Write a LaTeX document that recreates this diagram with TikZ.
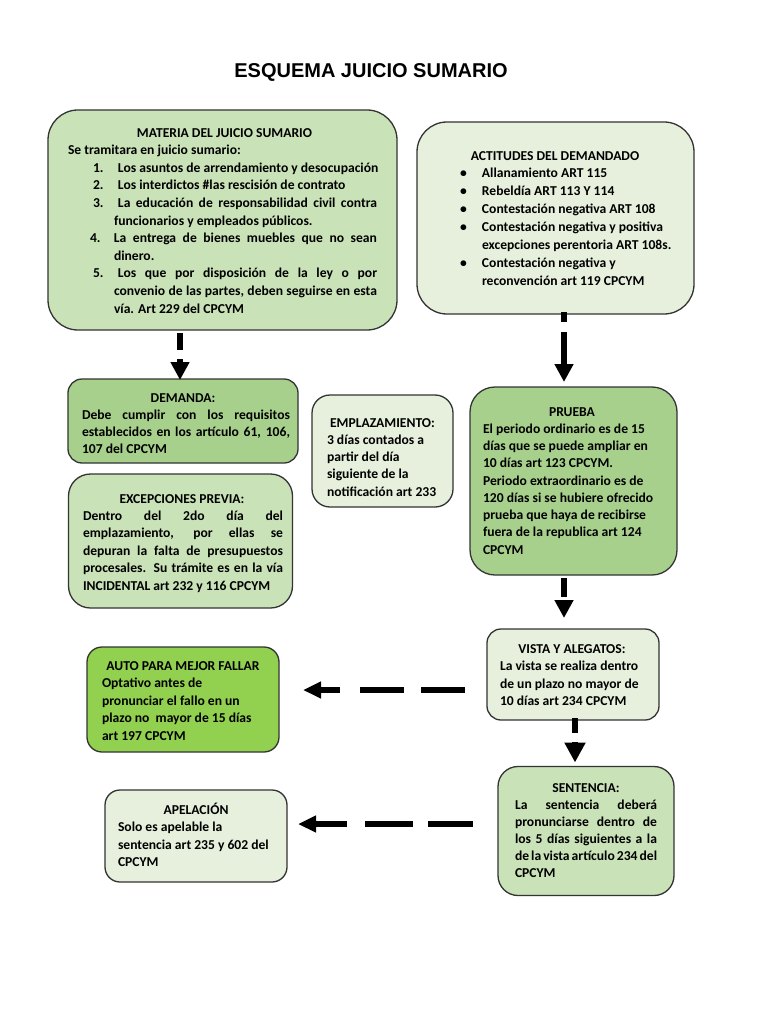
\documentclass[tikz,border=0pt]{standalone}
\usepackage{fontspec}
\setmainfont{Carlito}
\newfontfamily\titlefont{Liberation Sans}
\usetikzlibrary{arrows.meta}
\definecolor{gMid}{HTML}{A8D08D}
\definecolor{gLight}{HTML}{C9E2B7}
\definecolor{gPale}{HTML}{E6F0DC}
\definecolor{gBright}{HTML}{92D050}
\definecolor{edge}{HTML}{333333}
\newcommand{\firstln}{\rule{0pt}{12pt}}
\newcommand{\justln}[2]{\makebox[#1pt][s]{#2}}
\begin{document}
\begin{tikzpicture}[x=1pt,y=-1pt,
  box/.style={draw=edge, line width=1.3pt, inner sep=0pt, outer sep=0pt},
  txt/.style={anchor=north west, inner sep=0pt, outer sep=0pt, align=left},
  bodyfont/.style={font=\bfseries\fontsize{13.6}{#1}\selectfont},
  arr/.style={line width=6pt, -{Triangle[length=18pt,width=18pt]}},
  harr/.style={line width=6.5pt, -{Triangle[length=18pt,width=16pt]}}
]
\useasboundingbox (0,0) rectangle (768,1024);

% title
\node[anchor=base, inner sep=0pt, font=\titlefont\bfseries\fontsize{20}{24}\selectfont] (title) at (371,78) {ESQUEMA JUICIO SUMARIO};

% boxes
\node[box, fill=gLight, rounded corners=30pt, minimum width=349pt, minimum height=220pt] (mat) at (222.5,220) {};
\node[box, fill=gPale, rounded corners=30pt, minimum width=277pt, minimum height=192pt] (act) at (555.5,218) {};
\node[box, fill=gMid, rounded corners=14pt, minimum width=230pt, minimum height=84pt] (dem) at (183,421) {};
\node[box, fill=gLight, rounded corners=22pt, minimum width=224pt, minimum height=134pt] (exc) at (180.5,541) {};
\node[box, fill=gPale, rounded corners=18pt, minimum width=141pt, minimum height=112pt] (emp) at (382.5,451) {};
\node[box, fill=gMid, rounded corners=25pt, minimum width=207pt, minimum height=188pt] (pru) at (573.5,481) {};
\node[box, fill=gPale, rounded corners=14pt, minimum width=172pt, minimum height=91pt] (vis) at (573,674.5) {};
\node[box, fill=gBright, rounded corners=15pt, minimum width=192pt, minimum height=105pt] (aut) at (183,699.5) {};
\node[box, fill=gPale, rounded corners=15pt, minimum width=182pt, minimum height=92pt] (ape) at (196,836) {};
\node[box, fill=gLight, rounded corners=20pt, minimum width=176pt, minimum height=129pt] (sen) at (586,831) {};

% arrows
\draw[arr, dash pattern=on 17pt off 9pt on 60pt off 1pt]
  ([xshift=-42.5pt,yshift=-3pt]mat.south) -- ([xshift=-3pt,yshift=-1pt]dem.north);
\draw[arr, dash pattern=on 10pt off 10pt on 80pt off 1pt]
  ([xshift=8.5pt,yshift=2pt]act.south) -- ([xshift=-9.5pt,yshift=5pt]pru.north);
\draw[arr, dash pattern=on 19pt off 3pt on 40pt off 1pt]
  ([xshift=-9.5pt,yshift=-3pt]pru.south) -- ([xshift=-9pt,yshift=11pt]vis.north);
\draw[arr, line width=6.5pt, -{Triangle[length=20pt,width=20pt]}, dash pattern=on 15pt off 9pt on 40pt off 1pt]
  ([xshift=2pt,yshift=2pt]vis.south) -- ([xshift=-11pt,yshift=4pt]sen.north);
\draw[harr, dash pattern=on 44pt off 17pt on 44pt off 20pt on 60pt off 1pt]
  ([xshift=-22pt,yshift=-15.5pt]vis.west) -- ([xshift=24pt,yshift=9.5pt]aut.east);
\draw[harr, dash pattern=on 45pt off 15pt on 48pt off 18pt on 60pt off 1pt]
  ([xshift=-25pt,yshift=7pt]sen.west) -- ([xshift=11pt,yshift=12pt]ape.east);

% texts
\node[txt, bodyfont=17.6] (matT) at (68,125) {\firstln\makebox[313pt]{MATERIA DEL JUICIO SUMARIO}\\
Se tramitara en juicio sumario:\\
\hspace*{25pt}\makebox[25pt][l]{1.}Los asuntos de arrendamiento y desocupación\\
\hspace*{25pt}\makebox[25pt][l]{2.}Los interdictos \#las rescisión de contrato\\
\hspace*{25pt}\makebox[25pt][l]{3.}\justln{259}{La educación de responsabilidad civil contra}\\
\hspace*{46pt}funcionarios y empleados públicos.\\
\hspace*{22pt}\makebox[24pt][l]{4.}\justln{263}{La entrega de bienes muebles que no sean}\\
\hspace*{46pt}dinero.\\
\hspace*{25pt}\makebox[25pt][l]{5.}\justln{259}{Los que por disposición de la ley o por}\\
\hspace*{46pt}\justln{263}{convenio de las partes, deben seguirse en esta}\\
\hspace*{46pt}vía. Art 229 del CPCYM};

\node[txt, bodyfont=17.86] (actT) at (460,148) {\firstln\makebox[190pt]{ACTITUDES DEL DEMANDADO}\\
\makebox[22pt][l]{•}Allanamiento ART 115\\
\makebox[22pt][l]{•}Rebeldía ART 113 Y 114\\
\makebox[22pt][l]{•}Contestación negativa ART 108\\
\makebox[22pt][l]{•}Contestación negativa y positiva\\
\hspace*{22pt}excepciones perentoria ART 108s.\\
\makebox[22pt][l]{•}Contestación negativa y\\
\hspace*{22pt}reconvención art 119 CPCYM};

\node[txt, bodyfont=17.3] (demT) at (82,390) {\firstln\makebox[202pt]{DEMANDA:}\\
\justln{208}{Debe cumplir con los requisitos}\\
\justln{208}{establecidos en los artículo 61, 106,}\\
107 del CPCYM};

\node[txt, bodyfont=17.4] (excT) at (83,491) {\firstln\makebox[198pt]{EXCEPCIONES PREVIA:}\\
\justln{200}{Dentro del 2do día del}\\
\justln{200}{emplazamiento, por ellas se}\\
\justln{200}{depuran la falta de presupuestos}\\
\justln{200}{procesales. Su trámite es en la vía}\\
INCIDENTAL art 232 y 116 CPCYM};

\node[txt, bodyfont=17.25] (empT) at (327,415) {\firstln\hspace*{3pt}EMPLAZAMIENTO:\\
3 días contados a\\
partir del día\\
siguiente de la\\
notificación art 233};

\node[txt, bodyfont=17.25] (pruT) at (483,404) {\firstln\makebox[178pt]{PRUEBA}\\
El periodo ordinario es de 15\\
días que se puede ampliar en\\
10 días art 123 CPCYM.\\
Periodo extraordinario es de\\
120 días si se hubiere ofrecido\\
prueba que haya de recibirse\\
fuera de la republica art 124\\
CPCYM};

\node[txt, bodyfont=17.5] (visT) at (500,641) {\firstln\makebox[144pt]{VISTA Y ALEGATOS:}\\
La vista se realiza dentro\\
de un plazo no mayor de\\
10 días art 234 CPCYM};

\node[txt, bodyfont=17.5] (autT) at (102,658) {\firstln\makebox[162pt]{AUTO PARA MEJOR FALLAR}\\
Optativo antes de\\
pronunciar el fallo en un\\
plazo no\ \ mayor de 15 días\\
art 197 CPCYM};

\node[txt, bodyfont=17.5] (apeT) at (118,802) {\firstln\makebox[156pt]{APELACIÓN}\\
Solo es apelable la\\
sentencia art 235 y 602 del\\
CPCYM};

\node[txt, bodyfont=17] (senT) at (515,780) {\firstln\makebox[142pt]{SENTENCIA:}\\
\justln{142}{La sentencia deberá}\\
\justln{142}{pronunciarse dentro de}\\
\justln{142}{los 5 días siguientes a la}\\
\justln{142}{de la vista artículo 234 del}\\
CPCYM};
\end{tikzpicture}
\end{document}
